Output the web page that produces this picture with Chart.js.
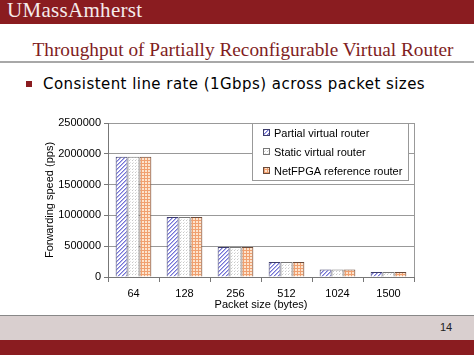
<!DOCTYPE html>
<html><head><meta charset="utf-8">
<script src="https://cdn.jsdelivr.net/npm/chart.js@4/dist/chart.umd.min.js"></script>
<style>
html,body{margin:0;padding:0;width:474px;height:355px;overflow:hidden;background:#fff;position:relative;font-family:"Liberation Sans",Arial,sans-serif}
#hdr{position:absolute;left:0;top:0;width:474px;height:24px;background:#8a1c20;overflow:hidden}
#logo{position:absolute;left:7px;top:-2px;font-family:"Liberation Serif",serif;font-size:21px;color:#f5ebeb;letter-spacing:0.3px;line-height:24px}
#title{position:absolute;left:6px;top:38px;width:474px;text-align:center;font-family:"Liberation Serif",serif;font-size:19.3px;color:#7f1d22;line-height:24px;white-space:nowrap}
#rule{position:absolute;left:0;top:61px;width:474px;height:2px;background:#a8a8a8}
#bullet{position:absolute;left:26px;top:81px;width:6px;height:6px;background:#8a1c20}
#btext{position:absolute;left:43px;top:75px;font-family:"DejaVu Sans",sans-serif;font-size:15px;letter-spacing:0.45px;color:#000;line-height:18px;white-space:nowrap}
#chartbox{position:absolute;left:30px;top:112px;width:444px;height:200px}
#fline{position:absolute;left:0;top:315px;width:474px;height:1px;background:#888}
#fband{position:absolute;left:0;top:316px;width:474px;height:24px;background:#d9cfcf}
#pg{position:absolute;left:440px;top:321px;font-size:11px;color:#222}
#fbot{position:absolute;left:0;top:340px;width:474px;height:15px;background:#8a1c20}
</style>
</head><body>
<div id="hdr"><div id="logo">UMassAmherst</div></div>
<div id="title">Throughput of Partially Reconfigurable Virtual Router</div>
<div id="rule"></div>
<div id="bullet"></div>
<div id="btext">Consistent line rate (1Gbps) across packet sizes</div>
<div id="chartbox"><canvas id="c" width="444" height="200"></canvas></div>
<div id="fline"></div>
<div id="fband"></div>
<div id="pg">14</div>
<div id="fbot"></div>
<script>
const categories = ['64','128','256','512','1024','1500'];
const seriesNames = ['Partial virtual router','Static virtual router','NetFPGA reference router'];
const partialVR = [1953000, 976000, 488000, 244000, 122000, 83000];
const staticVR  = [1953000, 976000, 488000, 244000, 122000, 83000];
const netfpgaRR = [1953000, 976000, 488000, 244000, 122000, 83000];
const yTicks = [0, 500000, 1000000, 1500000, 2000000, 2500000];

function mkPattern(kind){
  const c=document.createElement('canvas');
  const g=c.getContext('2d');
  if(kind==='diag'){
    c.width=c.height=4;
    g.fillStyle='#fff';g.fillRect(0,0,4,4);
    for(let x=0;x<4;x++)for(let y=0;y<4;y++){
      const s=(x+y)%4;
      if(s===3){g.fillStyle='#7474d4';g.fillRect(x,y,1,1);}
      else if(s===0){g.fillStyle='#b4b4ec';g.fillRect(x,y,1,1);}
    }
  } else if(kind==='dots'){
    c.width=c.height=3;
    g.fillStyle='#fff';g.fillRect(0,0,3,3);
    g.fillStyle='#c8c8c8';g.fillRect(0,0,1,1);
    g.fillStyle='#e2e2e2';g.fillRect(1,2,1,1);
  } else {
    c.width=c.height=3;
    g.fillStyle='#fde4ce';g.fillRect(0,0,3,3);
    g.fillStyle='#f0a070';g.fillRect(0,0,3,1);g.fillRect(0,0,1,3);
  }
  return g.createPattern(c,'repeat');
}
const pats=[mkPattern('diag'),mkPattern('dots'),mkPattern('grid')];
const borders=['#3c3c6a','#777','#6a4a3a'];
const allData=[partialVR,staticVR,netfpgaRR];

const legendPlugin={
  id:'boxLegend',
  afterDraw(chart){
    const ctx=chart.ctx, a=chart.chartArea;
    ctx.save();
    ctx.strokeStyle='#999';ctx.lineWidth=1;
    ctx.beginPath();ctx.moveTo(Math.round(a.right)+0.5,a.top);ctx.lineTo(Math.round(a.right)+0.5,a.bottom);ctx.stroke();
    const x=Math.round(a.left)+144, y=Math.round(a.top), w=156, h=57;
    ctx.fillStyle='#fff';ctx.fillRect(x,y,w,h);
    ctx.strokeStyle='#999';ctx.strokeRect(x+0.5,y+0.5,w,h);
    ctx.font='11px "Liberation Sans", Arial, sans-serif';
    ctx.textBaseline='middle';
    chart.data.datasets.forEach((ds,i)=>{
      const yy=y+10+i*19;
      ctx.fillStyle=ds.backgroundColor;ctx.fillRect(x+11,yy-4,7,7);
      ctx.strokeStyle=ds.borderColor;ctx.strokeRect(x+11.5,yy-3.5,6,6);
      ctx.fillStyle='#000';ctx.fillText(ds.label,x+22,yy+0.5);
    });
    ctx.restore();
  }
};

new Chart(document.getElementById('c'),{
  type:'bar',
  data:{labels:categories,datasets:allData.map((d,i)=>({
    label:seriesNames[i],data:d,backgroundColor:pats[i],borderColor:borders[i],borderWidth:1,
    categoryPercentage:0.7,barPercentage:1.0
  }))},
  options:{
    responsive:false,animation:false,
    layout:{padding:{left:13,right:60,top:11,bottom:0}},
    plugins:{legend:{display:false},tooltip:{enabled:false}},
    scales:{
      x:{
        grid:{drawOnChartArea:false,offset:true,tickLength:5,color:'#777'},
        border:{color:'#777'},
        ticks:{font:{size:11,family:'"Liberation Sans", Arial, sans-serif'},color:'#000',padding:5},
        title:{display:true,text:'Packet size (bytes)',font:{size:11,family:'"Liberation Sans", Arial, sans-serif'},color:'#000',padding:0},
        afterFit(ax){ax.height=35;}
      },
      y:{
        min:0,max:2500000,
        afterBuildTicks(ax){ax.ticks=yTicks.map(v=>({value:v}));},
        grid:{color:'#999',tickLength:4,tickColor:'#777'},
        border:{color:'#777'},
        ticks:{font:{size:11,family:'"Liberation Sans", Arial, sans-serif'},color:'#000',padding:3,callback:v=>String(v)},
        title:{display:true,text:'Forwarding speed (pps)',font:{size:11,family:'"Liberation Sans", Arial, sans-serif'},color:'#000',padding:0},
        afterFit(ax){ax.width=65;}
      }
    }
  },
  plugins:[legendPlugin]
});
</script>
</body></html>
